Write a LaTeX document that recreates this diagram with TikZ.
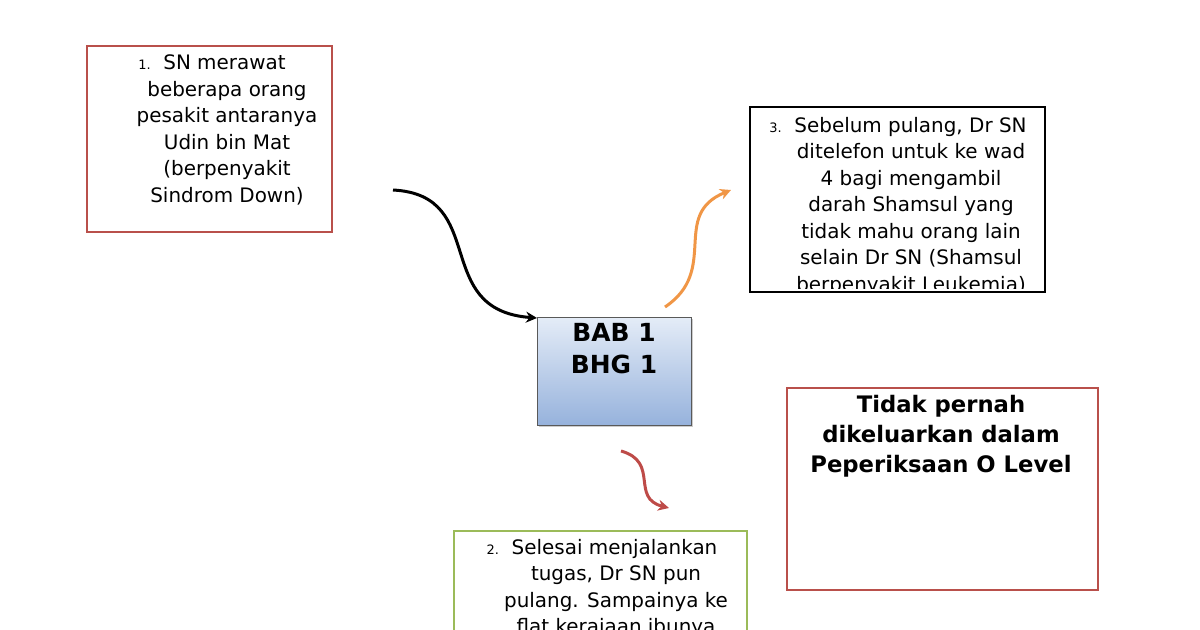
\documentclass[tikz,border=0pt]{standalone}
\usepackage{fontspec}
\setmainfont{DejaVu Sans}
\usetikzlibrary{arrows.meta,shadows}
\definecolor{redb}{RGB}{185,80,75}
\definecolor{greenb}{RGB}{155,187,89}
\definecolor{orangea}{RGB}{240,150,70}
\definecolor{reda}{RGB}{190,75,72}
\definecolor{gtop}{RGB}{228,236,247}
\definecolor{gbot}{RGB}{150,178,220}
\tikzset{
 bx/.style={draw,line width=2.2bp},
 txt/.style={align=center,inner sep=0,anchor=north,font=\fontsize{20}{26.6}\selectfont},
 btxt/.style={align=center,inner sep=0,anchor=north,font=\bfseries\fontsize{22.8}{30}\selectfont},
 arr/.style={line width=3bp,-{Stealth[length=11bp,width=11bp]}}
}
\begin{document}
\begin{tikzpicture}[x=1bp,y=-1bp]
\useasboundingbox (0,0) rectangle (1200,630);
% box 1
\node[bx,draw=redb,minimum width=245bp,minimum height=186bp,anchor=north west,inner sep=0] (b1) at (86,45) {};
\node[txt] (t1) at (227,55) {{\fontsize{13}{13}\selectfont 1.}\ \ SN merawat\hspace*{30bp}\\beberapa orang\\pesakit antaranya\\Udin bin Mat\\(berpenyakit\\Sindrom Down)};
% box 3
\node[bx,draw=black,minimum width=295bp,minimum height=185bp,anchor=north west,inner sep=0] (b3) at (749,106) {};
\begin{scope}
\clip (749,106) rectangle (1044,289);
\node[txt] (t3) at (911,117) {{\fontsize{13}{13}\selectfont 3.}\ \ Sebelum pulang, Dr SN\hspace*{26bp}\\ditelefon untuk ke wad\\4 bagi mengambil\\darah Shamsul yang\\tidak mahu orang lain\\selain Dr SN (Shamsul\\berpenyakit Leukemia)};
\end{scope}
% center
\node[draw=gray!70!black,line width=0.8bp,minimum width=154bp,minimum height=108bp,anchor=north west,inner sep=0,
  top color=gtop,bottom color=gbot,drop shadow={shadow xshift=1.5bp,shadow yshift=-1.5bp,opacity=0.4}] (c) at (537,317) {};
\node[btxt,font=\bfseries\fontsize{25}{32}\selectfont] (ct) at (614,323) {BAB 1\\BHG 1};
% box 4
\node[bx,draw=redb,minimum width=311bp,minimum height=202bp,anchor=north west,inner sep=0] (b4) at (786,387) {};
\node[btxt] (t4) at (941,395) {Tidak pernah\\dikeluarkan dalam\\Peperiksaan O Level};
% box 2
\begin{scope}
\clip (440,520) rectangle (760,630);
\node[bx,draw=greenb,minimum width=293bp,minimum height=130bp,anchor=north west,inner sep=0] (b2) at (453,530) {};
\node[txt] (t2) at (616,539) {{\fontsize{13}{13}\selectfont 2.}\ \ Selesai menjalankan\hspace*{28bp}\\tugas, Dr SN pun\\pulang. Sampainya ke\\flat kerajaan ibunya};
\end{scope}
% arrows
\coordinate (a1s) at (393,190);
\coordinate (a1e) at (537,318);
\draw[arr,black] (a1s) .. controls (490,195) and (430,310) .. (a1e);
\coordinate (a2s) at (665,307);
\coordinate (a2e) at (731,190);
\draw[arr,orangea] (a2s) .. controls (720,270) and (670,215) .. (a2e);
\coordinate (a3s) at (621,451);
\coordinate (a3e) at (669,508);
\draw[arr,reda] (a3s) .. controls (660,462) and (630,498) .. (a3e);
\end{tikzpicture}
\end{document}
